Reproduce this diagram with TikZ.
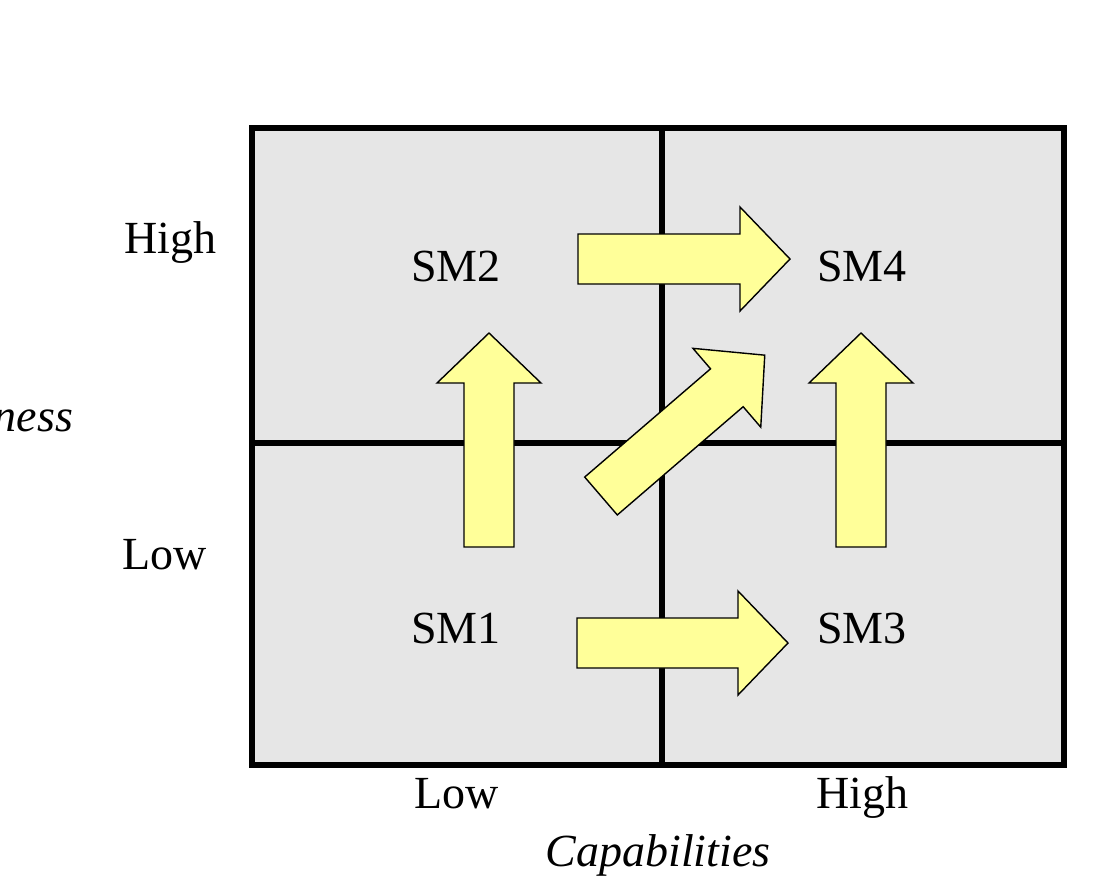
\documentclass[tikz,border=0pt]{standalone}
\usepackage{fontspec}
\setmainfont{Liberation Serif}
\definecolor{cellgray}{HTML}{E6E6E6}
\definecolor{arrowyellow}{HTML}{FFFF99}
% yellow block arrow: tail at (#1), angle #2, length #3
\newcommand{\movearrow}[3]{%
  \begin{scope}[shift={(#1)},rotate=#2]
    \draw [arrowfill] (0,-25) -- (#3-50,-25) -- (#3-50,-52) -- (#3,0)
      -- (#3-50,52) -- (#3-50,25) -- (0,25) -- cycle;
  \end{scope}}
\tikzset{
  arrowfill/.style={fill=arrowyellow,draw=black,line width=0.7pt,line join=miter},
  gridline/.style={line width=3pt},
  smlabel/.style={font=\fontsize{23}{27}\selectfont,text height=16pt,text depth=5pt},
  axlabel/.style={font=\fontsize{23}{27}\selectfont,text height=16pt,text depth=5pt},
}
\begin{document}
\begin{tikzpicture}[x=0.5pt,y=-0.5pt]
  \useasboundingbox (0,0) rectangle (1106,891);
  % Cells
  \fill [cellgray] (252,128) rectangle (1064,765);
  \draw [gridline] (252,128) rectangle (1064,765);
  \draw [gridline] (662,128) -- (662,765);
  \draw [gridline] (252,443) -- (1064,443);

  % States
  \node [smlabel] (SM2) at (456,270) {SM2};
  \node [smlabel] (SM4) at (862,270) {SM4};
  \node [smlabel] (SM1) at (456,632) {SM1};
  \node [smlabel] (SM3) at (862,632) {SM3};

  % Moves
  \movearrow{578,259}{0}{212}
  \movearrow{577,643}{0}{211}
  \movearrow{489,547}{90}{214}
  \movearrow{861,547}{90}{214}
  \movearrow{601,496}{40.7}{216}

  % Axes
  \node [axlabel] (yhigh) at (170,242) {High};
  \node [axlabel] (ylow) at (165,558) {Low};
  \node [axlabel,anchor=east] (ytitle) at (80,420) {\itshape Willingness};
  \node [axlabel] (xlow) at (457,797) {Low};
  \node [axlabel] (xhigh) at (862,797) {High};
  \node [axlabel] (xtitle) at (658,855) {\itshape Capabilities};
\end{tikzpicture}
\end{document}
